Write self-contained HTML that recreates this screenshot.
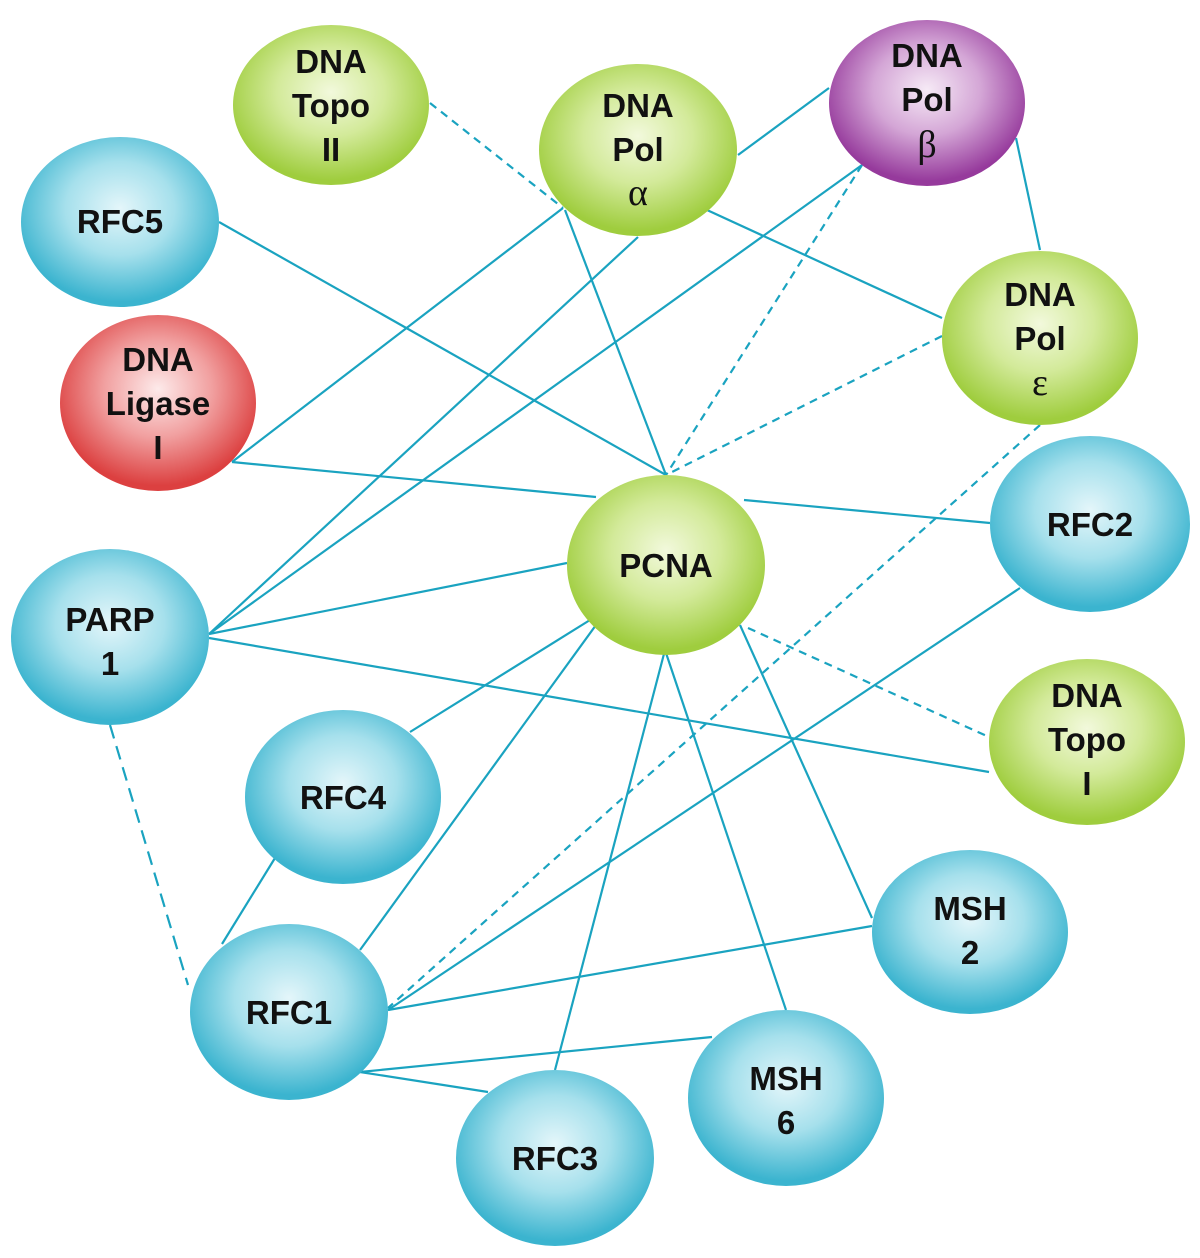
<!DOCTYPE html>
<html><head><meta charset="utf-8"><style>
html,body{margin:0;padding:0;background:#fff;}
svg{display:block;}
text{font-family:"Liberation Sans",sans-serif;font-weight:bold;font-size:33px;fill:#111;text-anchor:middle;}
.g{font-family:"Liberation Serif",serif;font-weight:normal;font-size:38px;}
</style></head><body>
<svg width="1200" height="1258" viewBox="0 0 1200 1258" xmlns="http://www.w3.org/2000/svg">
<defs>
<radialGradient id="b" cx="0.5" cy="0.42" r="0.55"><stop offset="0" stop-color="#e4f6fa"/><stop offset="0.5" stop-color="#a6e0ec"/><stop offset="1" stop-color="#3bb4cf"/></radialGradient>
<radialGradient id="gr" cx="0.5" cy="0.42" r="0.55"><stop offset="0" stop-color="#f2f9dc"/><stop offset="0.5" stop-color="#d3ea9a"/><stop offset="1" stop-color="#9fcd3e"/></radialGradient>
<radialGradient id="p" cx="0.5" cy="0.42" r="0.55"><stop offset="0" stop-color="#f6eaf6"/><stop offset="0.5" stop-color="#d4a6d6"/><stop offset="1" stop-color="#963a9c"/></radialGradient>
<radialGradient id="r" cx="0.5" cy="0.42" r="0.55"><stop offset="0" stop-color="#fdeaea"/><stop offset="0.5" stop-color="#f1a0a0"/><stop offset="1" stop-color="#dc4040"/></radialGradient>
</defs>
<g stroke="#1aa3c0" stroke-width="2.2" fill="none">
<line x1="738" y1="155" x2="829" y2="88"/>
<line x1="707" y1="210" x2="942" y2="318"/>
<line x1="565" y1="210" x2="666" y2="475"/>
<line x1="563" y1="208" x2="232" y2="462"/>
<line x1="1016" y1="138" x2="1040" y2="250"/>
<line x1="862" y1="165" x2="209" y2="634"/>
<line x1="219" y1="222" x2="666" y2="475"/>
<line x1="232" y1="462" x2="596" y2="497"/>
<line x1="744" y1="500" x2="990" y2="523"/>
<line x1="209" y1="634" x2="567" y2="563"/>
<line x1="209" y1="634" x2="638" y2="237"/>
<line x1="209" y1="638" x2="989" y2="772"/>
<line x1="590" y1="620" x2="410" y2="732"/>
<line x1="596" y1="625" x2="360" y2="950"/>
<line x1="665" y1="650" x2="555" y2="1070"/>
<line x1="665" y1="650" x2="786" y2="1010"/>
<line x1="740" y1="625" x2="872" y2="918"/>
<line x1="1020" y1="588" x2="388" y2="1010"/>
<line x1="275" y1="858" x2="222" y2="944"/>
<line x1="388" y1="1010" x2="872" y2="926"/>
<line x1="360" y1="1072" x2="712" y2="1037"/>
<line x1="360" y1="1072" x2="488" y2="1092"/>
<g stroke-dasharray="8,6">
<line x1="430" y1="103" x2="563" y2="208"/>
<line x1="862" y1="165" x2="666" y2="475"/>
<line x1="942" y1="336" x2="666" y2="475"/>
<line x1="1040" y1="425" x2="388" y2="1008"/>
<line x1="748" y1="628" x2="989" y2="737"/>
<line x1="110" y1="725" x2="188" y2="985" stroke-dasharray="14,8"/>
</g>
</g>
<ellipse cx="331" cy="105" rx="98" ry="80" fill="url(#gr)"/>
<ellipse cx="638" cy="150" rx="99" ry="86" fill="url(#gr)"/>
<ellipse cx="927" cy="103" rx="98" ry="83" fill="url(#p)"/>
<ellipse cx="120" cy="222" rx="99" ry="85" fill="url(#b)"/>
<ellipse cx="158" cy="403" rx="98" ry="88" fill="url(#r)"/>
<ellipse cx="1040" cy="338" rx="98" ry="87" fill="url(#gr)"/>
<ellipse cx="666" cy="565" rx="99" ry="90" fill="url(#gr)"/>
<ellipse cx="1090" cy="524" rx="100" ry="88" fill="url(#b)"/>
<ellipse cx="110" cy="637" rx="99" ry="88" fill="url(#b)"/>
<ellipse cx="1087" cy="742" rx="98" ry="83" fill="url(#gr)"/>
<ellipse cx="343" cy="797" rx="98" ry="87" fill="url(#b)"/>
<ellipse cx="970" cy="932" rx="98" ry="82" fill="url(#b)"/>
<ellipse cx="289" cy="1012" rx="99" ry="88" fill="url(#b)"/>
<ellipse cx="786" cy="1098" rx="98" ry="88" fill="url(#b)"/>
<ellipse cx="555" cy="1158" rx="99" ry="88" fill="url(#b)"/>
<text x="331" y="73">DNA</text><text x="331" y="117">Topo</text><text x="331" y="161">II</text>
<text x="638" y="117">DNA</text><text x="638" y="161">Pol</text><text class="g" x="638" y="205">α</text>
<text x="927" y="67">DNA</text><text x="927" y="111">Pol</text><text class="g" x="927" y="157">β</text>
<text x="120" y="233">RFC5</text>
<text x="158" y="371">DNA</text><text x="158" y="415">Ligase</text><text x="158" y="459">I</text>
<text x="1040" y="306">DNA</text><text x="1040" y="350">Pol</text><text class="g" x="1040" y="395">ε</text>
<text x="666" y="577">PCNA</text>
<text x="1090" y="536">RFC2</text>
<text x="110" y="631">PARP</text><text x="110" y="675">1</text>
<text x="1087" y="707">DNA</text><text x="1087" y="751">Topo</text><text x="1087" y="795">I</text>
<text x="343" y="809">RFC4</text>
<text x="970" y="920">MSH</text><text x="970" y="964">2</text>
<text x="289" y="1024">RFC1</text>
<text x="786" y="1090">MSH</text><text x="786" y="1134">6</text>
<text x="555" y="1170">RFC3</text>
</svg>
</body></html>
